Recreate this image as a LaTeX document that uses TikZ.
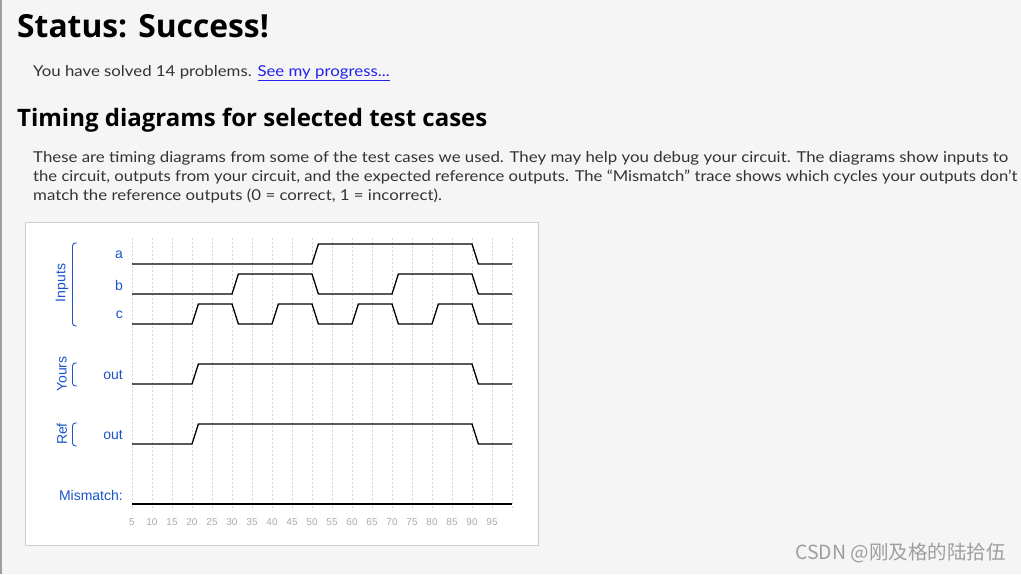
\documentclass[tikz,border=0pt]{standalone}
\usepackage{graphicx}
\usepackage{fontspec}
\setmainfont{Lato}[FakeStretch=1.12]
\newfontfamily\headfont{Open Sans}
\newfontfamily\arialfont{Liberation Sans}
\newfontfamily\cjkfont{Noto Sans CJK SC}

\definecolor{pagebg}{HTML}{F5F5F5}
\definecolor{boxline}{HTML}{CCCCCC}
\definecolor{lblblue}{HTML}{1A55C8}
\definecolor{linkblue}{HTML}{2222EE}
\definecolor{tickgray}{HTML}{AAAAAA}
\definecolor{gridgray}{HTML}{D6D6D6}
\definecolor{bodytext}{HTML}{333333}
\definecolor{markgray}{HTML}{9E9E9E}

\tikzset{
  wave/.style={line width=1.3pt, black, line join=miter},
  gridline/.style={gridgray, line width=0.6pt, dash pattern=on 2pt off 2pt},
  sig label/.style={anchor=east, inner sep=0pt, text=lblblue,
    font=\arialfont\fontsize{14}{16}\selectfont},
  group label/.style={rotate=90, inner sep=0pt, text=lblblue,
    font=\arialfont\fontsize{14}{16}\selectfont},
  group brace/.style={lblblue, line width=0.9pt, rounded corners=3pt},
  tick label/.style={inner sep=0pt, text=tickgray,
    font=\arialfont\fontsize{10}{12}\selectfont},
  body line/.style={anchor=base west, inner sep=0pt, text=bodytext,
    font=\fontsize{15}{18}\selectfont},
}

\begin{document}
\begin{tikzpicture}[x=1pt,y=-1pt]
  % page
  \fill[pagebg] (0,0) rectangle (1021,574);
  \useasboundingbox (0,0) rectangle (1021,574);
  \draw[markgray, line width=1.5pt] (0.75,0) -- (0.75,574);

  % headings and text
  \node[anchor=base west, inner sep=0pt, font=\headfont\bfseries\fontsize{31.8}{36}\selectfont]
    (status) at (17,37) {Status: Success!};
  \node[body line] (solved) at (33,76)
    {You have solved 14 problems. \textcolor{linkblue}{\underline{See my progress...}}};
  \node[anchor=base west, inner sep=0pt, font=\headfont\bfseries\fontsize{24}{28}\selectfont]
    (timing) at (17,126) {Timing diagrams for selected test cases};
  \node[body line] (par1) at (33,162)
    {\resizebox{975pt}{\height}{These are timing diagrams from some of the test cases we used. They may help you debug your circuit. The diagrams show inputs to}};
  \node[body line] (par2) at (33,181)
    {\resizebox{984pt}{\height}{the circuit, outputs from your circuit, and the expected reference outputs. The ``Mismatch'' trace shows which cycles your outputs don't}};
  \node[body line] (par3) at (33,200)
    {match the reference outputs (0 = correct, 1 = incorrect).};

  % diagram box
  \filldraw[fill=white, draw=boxline, line width=1pt] (25.5,222) rectangle (538.5,545);

  % group labels and braces
  \node[group label] (inputs) at (62,283) {Inputs};
  \node[group label] (yours) at (62,374) {Yours};
  \node[group label] (ref) at (62,434) {Ref};
  \draw[group brace] (77,243) -- (72.5,243) -- (72.5,326) -- (77,326);
  \draw[group brace] (77,363) -- (72.5,363) -- (72.5,386) -- (77,386);
  \draw[group brace] (77,423) -- (72.5,423) -- (72.5,446) -- (77,446);

  % signal names
  \node[sig label] (sa) at (123,255) {a};
  \node[sig label] (sb) at (123,285) {b};
  \node[sig label] (sc) at (123,315) {c};
  \node[sig label] (yout) at (123,375) {out};
  \node[sig label] (rout) at (123,435) {out};
  \node[sig label] (mism) at (123,495) {Mismatch:};

  % time axis: x = 112 + 4t
  \begin{scope}[xshift=112pt, x=4pt]
    \foreach \t in {5,10,...,100}
      \draw[gridline] (\t,238) -- (\t,511);
    \foreach \t in {5,10,...,95}
      \node[tick label] (t\t) at (\t,522) {\t};

    \draw[wave] (5,264) -- (50,264) -- (51.6,244) -- (90,244) -- (91.6,264) -- (100,264);
    \draw[wave] (5,294) -- (30,294) -- (31.6,274) -- (50,274) -- (51.6,294) -- (70,294)
      -- (71.6,274) -- (90,274) -- (91.6,294) -- (100,294);
    \draw[wave] (5,324) -- (20,324) -- (21.6,304) -- (30,304) -- (31.6,324) -- (40,324)
      -- (41.6,304) -- (50,304) -- (51.6,324) -- (60,324) -- (61.6,304) -- (70,304)
      -- (71.6,324) -- (80,324) -- (81.6,304) -- (90,304) -- (91.6,324) -- (100,324);
    \draw[wave] (5,384) -- (20,384) -- (21.6,364) -- (90,364) -- (91.6,384) -- (100,384);
    \draw[wave] (5,444) -- (20,444) -- (21.6,424) -- (90,424) -- (91.6,444) -- (100,444);
    \draw[wave] (5,504) -- (100,504);
  \end{scope}

  % watermark
  \node[anchor=base west, inner sep=0pt, text=markgray, font=\cjkfont\fontsize{19.5}{22}\selectfont]
    (mark) at (795,559) {CSDN @刚及格的陆拾伍};
\end{tikzpicture}
\end{document}
